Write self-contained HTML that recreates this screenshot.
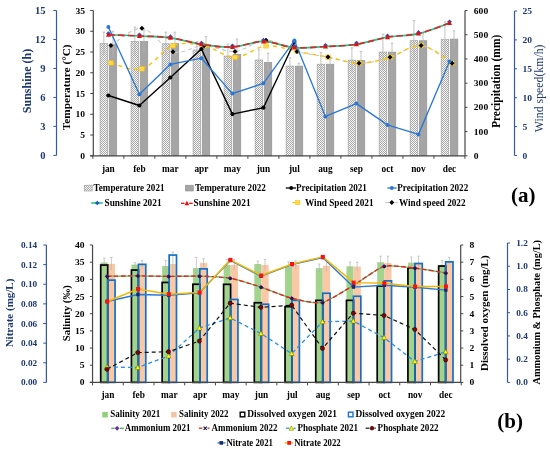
<!DOCTYPE html><html><head><meta charset="utf-8"><title>Chart</title><style>html,body{margin:0;padding:0;background:#fff;width:550px;height:451px;overflow:hidden}svg{display:block;filter:blur(0.3px)}text{font-family:"Liberation Serif",serif}</style></head><body>
<svg width="550" height="451" viewBox="0 0 550 451">
<defs><pattern id="chk" x="0" y="0" width="2" height="2" patternUnits="userSpaceOnUse"><rect width="2" height="2" fill="#f6f6f6"/><rect width="1" height="1" fill="#a9a9a9"/><rect x="1" y="1" width="1" height="1" fill="#a9a9a9"/></pattern></defs>
<rect width="550" height="451" fill="#fff"/>
<rect x="100.05" y="43.6" width="7.6" height="112.2" fill="url(#chk)" stroke="#9a9a9a" stroke-width="0.6"/>
<rect x="109.15" y="44.1" width="7.6" height="111.7" fill="#a5a5a5" stroke="#909090" stroke-width="0.6"/>
<rect x="131.06" y="41.4" width="7.6" height="114.4" fill="url(#chk)" stroke="#9a9a9a" stroke-width="0.6"/>
<rect x="140.16" y="41.4" width="7.6" height="114.4" fill="#a5a5a5" stroke="#909090" stroke-width="0.6"/>
<rect x="162.07" y="43.8" width="7.6" height="112" fill="url(#chk)" stroke="#9a9a9a" stroke-width="0.6"/>
<rect x="171.17" y="43.6" width="7.6" height="112.2" fill="#a5a5a5" stroke="#909090" stroke-width="0.6"/>
<rect x="193.08" y="50" width="7.6" height="105.8" fill="url(#chk)" stroke="#9a9a9a" stroke-width="0.6"/>
<rect x="202.18" y="47.6" width="7.6" height="108.2" fill="#a5a5a5" stroke="#909090" stroke-width="0.6"/>
<rect x="224.09" y="56.1" width="7.6" height="99.7" fill="url(#chk)" stroke="#9a9a9a" stroke-width="0.6"/>
<rect x="233.19" y="54.3" width="7.6" height="101.5" fill="#a5a5a5" stroke="#909090" stroke-width="0.6"/>
<rect x="255.1" y="60" width="7.6" height="95.8" fill="url(#chk)" stroke="#9a9a9a" stroke-width="0.6"/>
<rect x="264.2" y="62.3" width="7.6" height="93.5" fill="#a5a5a5" stroke="#909090" stroke-width="0.6"/>
<rect x="286.1" y="66.1" width="7.6" height="89.7" fill="url(#chk)" stroke="#9a9a9a" stroke-width="0.6"/>
<rect x="295.2" y="66.1" width="7.6" height="89.7" fill="#a5a5a5" stroke="#909090" stroke-width="0.6"/>
<rect x="317.11" y="64.2" width="7.6" height="91.6" fill="url(#chk)" stroke="#9a9a9a" stroke-width="0.6"/>
<rect x="326.21" y="64.2" width="7.6" height="91.6" fill="#a5a5a5" stroke="#909090" stroke-width="0.6"/>
<rect x="348.12" y="60.1" width="7.6" height="95.7" fill="url(#chk)" stroke="#9a9a9a" stroke-width="0.6"/>
<rect x="357.22" y="60.4" width="7.6" height="95.4" fill="#a5a5a5" stroke="#909090" stroke-width="0.6"/>
<rect x="379.13" y="52.1" width="7.6" height="103.7" fill="url(#chk)" stroke="#9a9a9a" stroke-width="0.6"/>
<rect x="388.23" y="52.1" width="7.6" height="103.7" fill="#a5a5a5" stroke="#909090" stroke-width="0.6"/>
<rect x="410.14" y="40.7" width="7.6" height="115.1" fill="url(#chk)" stroke="#9a9a9a" stroke-width="0.6"/>
<rect x="419.24" y="40.7" width="7.6" height="115.1" fill="#a5a5a5" stroke="#909090" stroke-width="0.6"/>
<rect x="441.15" y="39.6" width="7.6" height="116.2" fill="url(#chk)" stroke="#9a9a9a" stroke-width="0.6"/>
<rect x="450.25" y="39.1" width="7.6" height="116.7" fill="#a5a5a5" stroke="#909090" stroke-width="0.6"/>
<line x1="103.85" y1="32.1" x2="103.85" y2="55.1" stroke="#b4b4b4" stroke-width="0.8"/>
<line x1="102.55" y1="32.1" x2="105.15" y2="32.1" stroke="#b4b4b4" stroke-width="0.8"/>
<line x1="112.95" y1="31.3" x2="112.95" y2="56.9" stroke="#b4b4b4" stroke-width="0.8"/>
<line x1="111.65" y1="31.3" x2="114.25" y2="31.3" stroke="#b4b4b4" stroke-width="0.8"/>
<line x1="134.86" y1="27.1" x2="134.86" y2="55.7" stroke="#b4b4b4" stroke-width="0.8"/>
<line x1="133.56" y1="27.1" x2="136.16" y2="27.1" stroke="#b4b4b4" stroke-width="0.8"/>
<line x1="143.96" y1="30" x2="143.96" y2="52.8" stroke="#b4b4b4" stroke-width="0.8"/>
<line x1="142.66" y1="30" x2="145.26" y2="30" stroke="#b4b4b4" stroke-width="0.8"/>
<line x1="165.87" y1="32.2" x2="165.87" y2="55.4" stroke="#b4b4b4" stroke-width="0.8"/>
<line x1="164.57" y1="32.2" x2="167.17" y2="32.2" stroke="#b4b4b4" stroke-width="0.8"/>
<line x1="174.97" y1="32.2" x2="174.97" y2="55" stroke="#b4b4b4" stroke-width="0.8"/>
<line x1="173.67" y1="32.2" x2="176.27" y2="32.2" stroke="#b4b4b4" stroke-width="0.8"/>
<line x1="196.88" y1="41.6" x2="196.88" y2="58.4" stroke="#b4b4b4" stroke-width="0.8"/>
<line x1="195.58" y1="41.6" x2="198.18" y2="41.6" stroke="#b4b4b4" stroke-width="0.8"/>
<line x1="205.98" y1="36.4" x2="205.98" y2="58.8" stroke="#b4b4b4" stroke-width="0.8"/>
<line x1="204.68" y1="36.4" x2="207.28" y2="36.4" stroke="#b4b4b4" stroke-width="0.8"/>
<line x1="227.89" y1="44" x2="227.89" y2="68.2" stroke="#b4b4b4" stroke-width="0.8"/>
<line x1="226.59" y1="44" x2="229.19" y2="44" stroke="#b4b4b4" stroke-width="0.8"/>
<line x1="236.99" y1="39" x2="236.99" y2="69.6" stroke="#b4b4b4" stroke-width="0.8"/>
<line x1="235.69" y1="39" x2="238.29" y2="39" stroke="#b4b4b4" stroke-width="0.8"/>
<line x1="258.9" y1="49.8" x2="258.9" y2="70.2" stroke="#b4b4b4" stroke-width="0.8"/>
<line x1="257.6" y1="49.8" x2="260.2" y2="49.8" stroke="#b4b4b4" stroke-width="0.8"/>
<line x1="268" y1="53.2" x2="268" y2="71.4" stroke="#b4b4b4" stroke-width="0.8"/>
<line x1="266.7" y1="53.2" x2="269.3" y2="53.2" stroke="#b4b4b4" stroke-width="0.8"/>
<line x1="289.9" y1="57.7" x2="289.9" y2="74.5" stroke="#b4b4b4" stroke-width="0.8"/>
<line x1="288.6" y1="57.7" x2="291.2" y2="57.7" stroke="#b4b4b4" stroke-width="0.8"/>
<line x1="299" y1="63.2" x2="299" y2="69" stroke="#b4b4b4" stroke-width="0.8"/>
<line x1="297.7" y1="63.2" x2="300.3" y2="63.2" stroke="#b4b4b4" stroke-width="0.8"/>
<line x1="320.91" y1="52.6" x2="320.91" y2="75.8" stroke="#b4b4b4" stroke-width="0.8"/>
<line x1="319.61" y1="52.6" x2="322.21" y2="52.6" stroke="#b4b4b4" stroke-width="0.8"/>
<line x1="330.01" y1="58.3" x2="330.01" y2="70.1" stroke="#b4b4b4" stroke-width="0.8"/>
<line x1="328.71" y1="58.3" x2="331.31" y2="58.3" stroke="#b4b4b4" stroke-width="0.8"/>
<line x1="351.92" y1="47.8" x2="351.92" y2="72.4" stroke="#b4b4b4" stroke-width="0.8"/>
<line x1="350.62" y1="47.8" x2="353.22" y2="47.8" stroke="#b4b4b4" stroke-width="0.8"/>
<line x1="361.02" y1="51.4" x2="361.02" y2="69.4" stroke="#b4b4b4" stroke-width="0.8"/>
<line x1="359.72" y1="51.4" x2="362.32" y2="51.4" stroke="#b4b4b4" stroke-width="0.8"/>
<line x1="382.93" y1="34.1" x2="382.93" y2="70.1" stroke="#b4b4b4" stroke-width="0.8"/>
<line x1="381.63" y1="34.1" x2="384.23" y2="34.1" stroke="#b4b4b4" stroke-width="0.8"/>
<line x1="392.03" y1="43.1" x2="392.03" y2="61.1" stroke="#b4b4b4" stroke-width="0.8"/>
<line x1="390.73" y1="43.1" x2="393.33" y2="43.1" stroke="#b4b4b4" stroke-width="0.8"/>
<line x1="413.94" y1="20.6" x2="413.94" y2="60.8" stroke="#b4b4b4" stroke-width="0.8"/>
<line x1="412.64" y1="20.6" x2="415.24" y2="20.6" stroke="#b4b4b4" stroke-width="0.8"/>
<line x1="423.04" y1="33.6" x2="423.04" y2="47.8" stroke="#b4b4b4" stroke-width="0.8"/>
<line x1="421.74" y1="33.6" x2="424.34" y2="33.6" stroke="#b4b4b4" stroke-width="0.8"/>
<line x1="444.95" y1="21.8" x2="444.95" y2="57.4" stroke="#b4b4b4" stroke-width="0.8"/>
<line x1="443.65" y1="21.8" x2="446.25" y2="21.8" stroke="#b4b4b4" stroke-width="0.8"/>
<line x1="454.05" y1="30.8" x2="454.05" y2="47.4" stroke="#b4b4b4" stroke-width="0.8"/>
<line x1="452.75" y1="30.8" x2="455.35" y2="30.8" stroke="#b4b4b4" stroke-width="0.8"/>
<line x1="93.3" y1="10.5" x2="93.3" y2="155.8" stroke="#474747" stroke-width="1.2"/>
<line x1="90.2" y1="155.8" x2="464.95" y2="155.8" stroke="#474747" stroke-width="1.2"/>
<line x1="90.2" y1="155.8" x2="93.3" y2="155.8" stroke="#474747" stroke-width="1"/>
<text transform="translate(85 158.8) scale(1 0.88)" x="0" y="0" font-size="9.6" text-anchor="end" fill="#000" font-weight="bold">0</text>
<line x1="90.2" y1="135.04" x2="93.3" y2="135.04" stroke="#474747" stroke-width="1"/>
<text transform="translate(85 138.04) scale(1 0.88)" x="0" y="0" font-size="9.6" text-anchor="end" fill="#000" font-weight="bold">5</text>
<line x1="90.2" y1="114.29" x2="93.3" y2="114.29" stroke="#474747" stroke-width="1"/>
<text transform="translate(85 117.29) scale(1 0.88)" x="0" y="0" font-size="9.6" text-anchor="end" fill="#000" font-weight="bold">10</text>
<line x1="90.2" y1="93.53" x2="93.3" y2="93.53" stroke="#474747" stroke-width="1"/>
<text transform="translate(85 96.53) scale(1 0.88)" x="0" y="0" font-size="9.6" text-anchor="end" fill="#000" font-weight="bold">15</text>
<line x1="90.2" y1="72.77" x2="93.3" y2="72.77" stroke="#474747" stroke-width="1"/>
<text transform="translate(85 75.77) scale(1 0.88)" x="0" y="0" font-size="9.6" text-anchor="end" fill="#000" font-weight="bold">20</text>
<line x1="90.2" y1="52.01" x2="93.3" y2="52.01" stroke="#474747" stroke-width="1"/>
<text transform="translate(85 55.01) scale(1 0.88)" x="0" y="0" font-size="9.6" text-anchor="end" fill="#000" font-weight="bold">25</text>
<line x1="90.2" y1="31.26" x2="93.3" y2="31.26" stroke="#474747" stroke-width="1"/>
<text transform="translate(85 34.26) scale(1 0.88)" x="0" y="0" font-size="9.6" text-anchor="end" fill="#000" font-weight="bold">30</text>
<line x1="90.2" y1="10.5" x2="93.3" y2="10.5" stroke="#474747" stroke-width="1"/>
<text transform="translate(85 13.5) scale(1 0.88)" x="0" y="0" font-size="9.6" text-anchor="end" fill="#000" font-weight="bold">35</text>
<line x1="92.85" y1="155.8" x2="92.85" y2="158.8" stroke="#474747" stroke-width="1"/>
<line x1="123.86" y1="155.8" x2="123.86" y2="158.8" stroke="#474747" stroke-width="1"/>
<line x1="154.87" y1="155.8" x2="154.87" y2="158.8" stroke="#474747" stroke-width="1"/>
<line x1="185.88" y1="155.8" x2="185.88" y2="158.8" stroke="#474747" stroke-width="1"/>
<line x1="216.88" y1="155.8" x2="216.88" y2="158.8" stroke="#474747" stroke-width="1"/>
<line x1="247.89" y1="155.8" x2="247.89" y2="158.8" stroke="#474747" stroke-width="1"/>
<line x1="278.9" y1="155.8" x2="278.9" y2="158.8" stroke="#474747" stroke-width="1"/>
<line x1="309.91" y1="155.8" x2="309.91" y2="158.8" stroke="#474747" stroke-width="1"/>
<line x1="340.92" y1="155.8" x2="340.92" y2="158.8" stroke="#474747" stroke-width="1"/>
<line x1="371.93" y1="155.8" x2="371.93" y2="158.8" stroke="#474747" stroke-width="1"/>
<line x1="402.93" y1="155.8" x2="402.93" y2="158.8" stroke="#474747" stroke-width="1"/>
<line x1="433.94" y1="155.8" x2="433.94" y2="158.8" stroke="#474747" stroke-width="1"/>
<line x1="464.95" y1="155.8" x2="464.95" y2="158.8" stroke="#474747" stroke-width="1"/>
<text x="108.35" y="171.9" font-size="9.3" text-anchor="middle" fill="#000" font-weight="bold">jan</text>
<text x="139.36" y="171.9" font-size="9.3" text-anchor="middle" fill="#000" font-weight="bold">feb</text>
<text x="170.37" y="171.9" font-size="9.3" text-anchor="middle" fill="#000" font-weight="bold">mar</text>
<text x="201.38" y="171.9" font-size="9.3" text-anchor="middle" fill="#000" font-weight="bold">apr</text>
<text x="232.39" y="171.9" font-size="9.3" text-anchor="middle" fill="#000" font-weight="bold">may</text>
<text x="263.4" y="171.9" font-size="9.3" text-anchor="middle" fill="#000" font-weight="bold">jun</text>
<text x="294.4" y="171.9" font-size="9.3" text-anchor="middle" fill="#000" font-weight="bold">jul</text>
<text x="325.41" y="171.9" font-size="9.3" text-anchor="middle" fill="#000" font-weight="bold">aug</text>
<text x="356.42" y="171.9" font-size="9.3" text-anchor="middle" fill="#000" font-weight="bold">sep</text>
<text x="387.43" y="171.9" font-size="9.3" text-anchor="middle" fill="#000" font-weight="bold">oct</text>
<text x="418.44" y="171.9" font-size="9.3" text-anchor="middle" fill="#000" font-weight="bold">nov</text>
<text x="449.45" y="171.9" font-size="9.3" text-anchor="middle" fill="#000" font-weight="bold">dec</text>
<line x1="56.5" y1="10.5" x2="56.5" y2="155.4" stroke="#3459a0" stroke-width="1.2"/>
<line x1="53.3" y1="155.4" x2="56.5" y2="155.4" stroke="#3459a0" stroke-width="1"/>
<text transform="translate(45.6 158.9) scale(1 0.9)" x="0" y="0" font-size="10.6" text-anchor="end" fill="#1f3870" font-weight="bold">0</text>
<line x1="53.3" y1="126.42" x2="56.5" y2="126.42" stroke="#3459a0" stroke-width="1"/>
<text transform="translate(45.6 129.92) scale(1 0.9)" x="0" y="0" font-size="10.6" text-anchor="end" fill="#1f3870" font-weight="bold">3</text>
<line x1="53.3" y1="97.44" x2="56.5" y2="97.44" stroke="#3459a0" stroke-width="1"/>
<text transform="translate(45.6 100.94) scale(1 0.9)" x="0" y="0" font-size="10.6" text-anchor="end" fill="#1f3870" font-weight="bold">6</text>
<line x1="53.3" y1="68.46" x2="56.5" y2="68.46" stroke="#3459a0" stroke-width="1"/>
<text transform="translate(45.6 71.96) scale(1 0.9)" x="0" y="0" font-size="10.6" text-anchor="end" fill="#1f3870" font-weight="bold">9</text>
<line x1="53.3" y1="39.48" x2="56.5" y2="39.48" stroke="#3459a0" stroke-width="1"/>
<text transform="translate(45.6 42.98) scale(1 0.9)" x="0" y="0" font-size="10.6" text-anchor="end" fill="#1f3870" font-weight="bold">12</text>
<line x1="53.3" y1="10.5" x2="56.5" y2="10.5" stroke="#3459a0" stroke-width="1"/>
<text transform="translate(45.6 14) scale(1 0.9)" x="0" y="0" font-size="10.6" text-anchor="end" fill="#1f3870" font-weight="bold">15</text>
<line x1="465" y1="10.5" x2="465" y2="155.8" stroke="#474747" stroke-width="1.2"/>
<line x1="465" y1="155.8" x2="467.5" y2="155.8" stroke="#474747" stroke-width="1"/>
<text transform="translate(473.8 158.8) scale(1 0.88)" x="0" y="0" font-size="9.6" text-anchor="start" fill="#000" font-weight="bold">0</text>
<line x1="465" y1="131.58" x2="467.5" y2="131.58" stroke="#474747" stroke-width="1"/>
<text transform="translate(473.8 134.58) scale(1 0.88)" x="0" y="0" font-size="9.6" text-anchor="start" fill="#000" font-weight="bold">100</text>
<line x1="465" y1="107.37" x2="467.5" y2="107.37" stroke="#474747" stroke-width="1"/>
<text transform="translate(473.8 110.37) scale(1 0.88)" x="0" y="0" font-size="9.6" text-anchor="start" fill="#000" font-weight="bold">200</text>
<line x1="465" y1="83.15" x2="467.5" y2="83.15" stroke="#474747" stroke-width="1"/>
<text transform="translate(473.8 86.15) scale(1 0.88)" x="0" y="0" font-size="9.6" text-anchor="start" fill="#000" font-weight="bold">300</text>
<line x1="465" y1="58.93" x2="467.5" y2="58.93" stroke="#474747" stroke-width="1"/>
<text transform="translate(473.8 61.93) scale(1 0.88)" x="0" y="0" font-size="9.6" text-anchor="start" fill="#000" font-weight="bold">400</text>
<line x1="465" y1="34.72" x2="467.5" y2="34.72" stroke="#474747" stroke-width="1"/>
<text transform="translate(473.8 37.72) scale(1 0.88)" x="0" y="0" font-size="9.6" text-anchor="start" fill="#000" font-weight="bold">500</text>
<line x1="465" y1="10.5" x2="467.5" y2="10.5" stroke="#474747" stroke-width="1"/>
<text transform="translate(473.8 13.5) scale(1 0.88)" x="0" y="0" font-size="9.6" text-anchor="start" fill="#000" font-weight="bold">600</text>
<line x1="514.5" y1="11" x2="514.5" y2="155.5" stroke="#3459a0" stroke-width="1.2"/>
<line x1="514.5" y1="155.5" x2="517" y2="155.5" stroke="#3459a0" stroke-width="1"/>
<text transform="translate(522.5 158.6) scale(1 0.9)" x="0" y="0" font-size="9.6" text-anchor="start" fill="#1f3870" font-weight="bold">0</text>
<line x1="514.5" y1="126.6" x2="517" y2="126.6" stroke="#3459a0" stroke-width="1"/>
<text transform="translate(522.5 129.7) scale(1 0.9)" x="0" y="0" font-size="9.6" text-anchor="start" fill="#1f3870" font-weight="bold">5</text>
<line x1="514.5" y1="97.7" x2="517" y2="97.7" stroke="#3459a0" stroke-width="1"/>
<text transform="translate(522.5 100.8) scale(1 0.9)" x="0" y="0" font-size="9.6" text-anchor="start" fill="#1f3870" font-weight="bold">10</text>
<line x1="514.5" y1="68.8" x2="517" y2="68.8" stroke="#3459a0" stroke-width="1"/>
<text transform="translate(522.5 71.9) scale(1 0.9)" x="0" y="0" font-size="9.6" text-anchor="start" fill="#1f3870" font-weight="bold">15</text>
<line x1="514.5" y1="39.9" x2="517" y2="39.9" stroke="#3459a0" stroke-width="1"/>
<text transform="translate(522.5 43) scale(1 0.9)" x="0" y="0" font-size="9.6" text-anchor="start" fill="#1f3870" font-weight="bold">20</text>
<line x1="514.5" y1="11" x2="517" y2="11" stroke="#3459a0" stroke-width="1"/>
<text transform="translate(522.5 14.1) scale(1 0.9)" x="0" y="0" font-size="9.6" text-anchor="start" fill="#1f3870" font-weight="bold">25</text>
<text transform="translate(27.2 81) rotate(-90)" x="0" y="0" font-size="12" text-anchor="middle" dominant-baseline="central" fill="#1f3870" font-weight="bold">Sunshine (h)</text>
<text transform="translate(65.6 87.3) rotate(-90)" x="0" y="0" font-size="11.3" text-anchor="middle" dominant-baseline="central" fill="#000" font-weight="bold">Temperature (°C)</text>
<text transform="translate(495.8 81.4) rotate(-90)" x="0" y="0" font-size="11.5" text-anchor="middle" dominant-baseline="central" fill="#000" font-weight="bold">Precipitation (mm)</text>
<text transform="translate(538.9 88.3) rotate(-90)" x="0" y="0" font-size="11.8" text-anchor="middle" dominant-baseline="central" fill="#1f3870" font-weight="normal">Wind speed(km/h)</text>
<path d="M110.95 45.6 C116.12 42.72 131.63 27.27 141.96 28.3 C152.3 29.33 162.63 48.9 172.97 51.8 C183.31 54.7 193.64 45.77 203.98 45.7 C214.32 45.63 224.65 52.32 234.99 51.4 C245.32 50.48 255.66 40.2 266 40.2 C276.33 40.2 286.67 48.58 297 51.4 C307.34 54.22 317.68 55.13 328.01 57.1 C338.35 59.07 348.68 63.17 359.02 63.2 C369.36 63.23 379.69 60.25 390.03 57.3 C400.37 54.35 410.7 44.52 421.04 45.5 C431.37 46.48 446.88 60.25 452.05 63.2" fill="none" stroke="#c8c8c8" stroke-width="1.1" stroke-dasharray="4 3"/>
<path d="M110.95 62.9 C116.12 63.9 131.63 71.77 141.96 68.9 C152.3 66.03 162.63 49.57 172.97 45.7 C183.31 41.83 193.64 43.77 203.98 45.7 C214.32 47.63 224.65 57.27 234.99 57.3 C245.32 57.33 255.66 46.88 266 45.9 C276.33 44.92 286.67 49.53 297 51.4 C307.34 53.27 317.68 55.13 328.01 57.1 C338.35 59.07 348.68 63.17 359.02 63.2 C369.36 63.23 379.69 60.25 390.03 57.3 C400.37 54.35 410.7 44.52 421.04 45.5 C431.37 46.48 446.88 60.25 452.05 63.2" fill="none" stroke="#ffc000" stroke-width="1.4" stroke-dasharray="4 4"/>
<rect x="108.75" y="60.7" width="4.4" height="4.4" fill="#ffd84a" stroke="#f5c400" stroke-width="0.5"/>
<rect x="139.76" y="66.7" width="4.4" height="4.4" fill="#ffd84a" stroke="#f5c400" stroke-width="0.5"/>
<rect x="170.77" y="43.5" width="4.4" height="4.4" fill="#ffd84a" stroke="#f5c400" stroke-width="0.5"/>
<rect x="201.78" y="43.5" width="4.4" height="4.4" fill="#ffd84a" stroke="#f5c400" stroke-width="0.5"/>
<rect x="232.79" y="55.1" width="4.4" height="4.4" fill="#ffd84a" stroke="#f5c400" stroke-width="0.5"/>
<rect x="263.8" y="43.7" width="4.4" height="4.4" fill="#ffd84a" stroke="#f5c400" stroke-width="0.5"/>
<rect x="294.8" y="49.2" width="4.4" height="4.4" fill="#ffd84a" stroke="#f5c400" stroke-width="0.5"/>
<rect x="325.81" y="54.9" width="4.4" height="4.4" fill="#ffd84a" stroke="#f5c400" stroke-width="0.5"/>
<rect x="356.82" y="61" width="4.4" height="4.4" fill="#ffd84a" stroke="#f5c400" stroke-width="0.5"/>
<rect x="387.83" y="55.1" width="4.4" height="4.4" fill="#ffd84a" stroke="#f5c400" stroke-width="0.5"/>
<rect x="418.84" y="43.3" width="4.4" height="4.4" fill="#ffd84a" stroke="#f5c400" stroke-width="0.5"/>
<rect x="449.85" y="61" width="4.4" height="4.4" fill="#ffd84a" stroke="#f5c400" stroke-width="0.5"/>
<path d="M110.95 43.1 L113.45 45.6 L110.95 48.1 L108.45 45.6 Z" fill="#000"/>
<path d="M141.96 25.8 L144.46 28.3 L141.96 30.8 L139.46 28.3 Z" fill="#000"/>
<path d="M172.97 49.3 L175.47 51.8 L172.97 54.3 L170.47 51.8 Z" fill="#000"/>
<path d="M203.98 43.2 L206.48 45.7 L203.98 48.2 L201.48 45.7 Z" fill="#000"/>
<path d="M234.99 48.9 L237.49 51.4 L234.99 53.9 L232.49 51.4 Z" fill="#000"/>
<path d="M266 37.7 L268.5 40.2 L266 42.7 L263.5 40.2 Z" fill="#000"/>
<path d="M297 48.9 L299.5 51.4 L297 53.9 L294.5 51.4 Z" fill="#000"/>
<path d="M328.01 54.6 L330.51 57.1 L328.01 59.6 L325.51 57.1 Z" fill="#000"/>
<path d="M359.02 60.7 L361.52 63.2 L359.02 65.7 L356.52 63.2 Z" fill="#000"/>
<path d="M390.03 54.8 L392.53 57.3 L390.03 59.8 L387.53 57.3 Z" fill="#000"/>
<path d="M421.04 43 L423.54 45.5 L421.04 48 L418.54 45.5 Z" fill="#000"/>
<path d="M452.05 60.7 L454.55 63.2 L452.05 65.7 L449.55 63.2 Z" fill="#000"/>
<path d="M108.35 95.5 L139.36 105.5 L170.37 77.5 L201.38 49 L232.39 114.1 L263.4 107.7 L294.4 42" fill="none" stroke="#000" stroke-width="1.4" stroke-linejoin="round"/>
<circle cx="108.35" cy="95.5" r="2.1" fill="#000"/>
<circle cx="139.36" cy="105.5" r="2.1" fill="#000"/>
<circle cx="170.37" cy="77.5" r="2.1" fill="#000"/>
<circle cx="201.38" cy="49" r="2.1" fill="#000"/>
<circle cx="232.39" cy="114.1" r="2.1" fill="#000"/>
<circle cx="263.4" cy="107.7" r="2.1" fill="#000"/>
<circle cx="294.4" cy="42" r="2.1" fill="#000"/>
<path d="M108.35 27 L139.36 94.3 L170.37 64.4 L201.38 58.2 L232.39 93.6 L263.4 83.3 L294.4 40.6 L325.41 116.4 L356.42 103.6 L387.43 124.9 L418.44 134.4 L449.45 61.5" fill="none" stroke="#2a78d6" stroke-width="1.35" stroke-linejoin="round"/>
<circle cx="108.35" cy="27" r="2" fill="#2a78d6"/>
<circle cx="139.36" cy="94.3" r="2" fill="#2a78d6"/>
<circle cx="170.37" cy="64.4" r="2" fill="#2a78d6"/>
<circle cx="201.38" cy="58.2" r="2" fill="#2a78d6"/>
<circle cx="232.39" cy="93.6" r="2" fill="#2a78d6"/>
<circle cx="263.4" cy="83.3" r="2" fill="#2a78d6"/>
<circle cx="294.4" cy="40.6" r="2" fill="#2a78d6"/>
<circle cx="325.41" cy="116.4" r="2" fill="#2a78d6"/>
<circle cx="356.42" cy="103.6" r="2" fill="#2a78d6"/>
<circle cx="387.43" cy="124.9" r="2" fill="#2a78d6"/>
<circle cx="418.44" cy="134.4" r="2" fill="#2a78d6"/>
<circle cx="449.45" cy="61.5" r="2" fill="#2a78d6"/>
<path d="M108.45 34.8 C113.62 35 129.13 35.5 139.46 36 C149.8 36.5 160.13 36.42 170.47 37.8 C180.81 39.18 191.14 42.77 201.48 44.3 C211.82 45.83 222.15 47.48 232.49 47 C242.82 46.52 253.16 41.3 263.5 41.4 C273.83 41.5 284.17 46.75 294.5 47.6 C304.84 48.45 315.18 47.05 325.51 46.5 C335.85 45.95 346.18 45.85 356.52 44.3 C366.86 42.75 377.19 38.98 387.53 37.2 C397.87 35.42 408.2 35.97 418.54 33.6 C428.87 31.23 444.38 24.77 449.55 23" fill="none" stroke="#22c488" stroke-width="1.7"/>
<path d="M108.45 31.2 L110.85 33.6 L108.45 36 L106.05 33.6 Z" fill="#2456c8"/>
<path d="M139.46 32.4 L141.86 34.8 L139.46 37.2 L137.06 34.8 Z" fill="#2456c8"/>
<path d="M170.47 34.2 L172.87 36.6 L170.47 39 L168.07 36.6 Z" fill="#2456c8"/>
<path d="M201.48 40.7 L203.88 43.1 L201.48 45.5 L199.08 43.1 Z" fill="#2456c8"/>
<path d="M232.49 43.4 L234.89 45.8 L232.49 48.2 L230.09 45.8 Z" fill="#2456c8"/>
<path d="M263.5 37.8 L265.9 40.2 L263.5 42.6 L261.1 40.2 Z" fill="#2456c8"/>
<path d="M294.5 44 L296.9 46.4 L294.5 48.8 L292.1 46.4 Z" fill="#2456c8"/>
<path d="M325.51 42.9 L327.91 45.3 L325.51 47.7 L323.11 45.3 Z" fill="#2456c8"/>
<path d="M356.52 40.7 L358.92 43.1 L356.52 45.5 L354.12 43.1 Z" fill="#2456c8"/>
<path d="M387.53 33.6 L389.93 36 L387.53 38.4 L385.13 36 Z" fill="#2456c8"/>
<path d="M418.54 30 L420.94 32.4 L418.54 34.8 L416.14 32.4 Z" fill="#2456c8"/>
<path d="M449.55 19.4 L451.95 21.8 L449.55 24.2 L447.15 21.8 Z" fill="#2456c8"/>
<path d="M108.45 34.8 C113.62 35 129.13 35.5 139.46 36 C149.8 36.5 160.13 36.42 170.47 37.8 C180.81 39.18 191.14 42.77 201.48 44.3 C211.82 45.83 222.15 47.48 232.49 47 C242.82 46.52 253.16 41.3 263.5 41.4 C273.83 41.5 284.17 46.75 294.5 47.6 C304.84 48.45 315.18 47.05 325.51 46.5 C335.85 45.95 346.18 45.85 356.52 44.3 C366.86 42.75 377.19 38.98 387.53 37.2 C397.87 35.42 408.2 35.97 418.54 33.6 C428.87 31.23 444.38 24.77 449.55 23" fill="none" stroke="#d42a2a" stroke-width="1.7" stroke-dasharray="6.5 3.2"/>
<path d="M108.45 32.05 L110.95 36.8 L105.95 36.8 Z" fill="#e01010"/>
<path d="M139.46 33.25 L141.96 38 L136.96 38 Z" fill="#e01010"/>
<path d="M170.47 35.05 L172.97 39.8 L167.97 39.8 Z" fill="#e01010"/>
<path d="M201.48 41.55 L203.98 46.3 L198.98 46.3 Z" fill="#e01010"/>
<path d="M232.49 44.25 L234.99 49 L229.99 49 Z" fill="#e01010"/>
<path d="M263.5 38.65 L266 43.4 L261 43.4 Z" fill="#e01010"/>
<path d="M294.5 44.85 L297 49.6 L292 49.6 Z" fill="#e01010"/>
<path d="M325.51 43.75 L328.01 48.5 L323.01 48.5 Z" fill="#e01010"/>
<path d="M356.52 41.55 L359.02 46.3 L354.02 46.3 Z" fill="#e01010"/>
<path d="M387.53 34.45 L390.03 39.2 L385.03 39.2 Z" fill="#e01010"/>
<path d="M418.54 30.85 L421.04 35.6 L416.04 35.6 Z" fill="#e01010"/>
<path d="M449.55 20.25 L452.05 25 L447.05 25 Z" fill="#e01010"/>
<rect x="84.2" y="185.2" width="8" height="5.8" fill="url(#chk)" stroke="#9a9a9a" stroke-width="0.6"/>
<text x="93.6" y="191.2" font-size="9.6" fill="#000" font-weight="bold" textLength="70.9" lengthAdjust="spacingAndGlyphs">Temperature 2021</text>
<rect x="185.3" y="185.2" width="8" height="5.8" fill="#a5a5a5" stroke="#909090" stroke-width="0.6"/>
<text x="194.9" y="191.2" font-size="9.6" fill="#000" font-weight="bold" textLength="70.9" lengthAdjust="spacingAndGlyphs">Temperature 2022</text>
<line x1="285.8" y1="188" x2="296" y2="188" stroke="#000" stroke-width="1.3"/>
<circle cx="291.2" cy="188" r="1.9" fill="#000"/>
<text x="296" y="191.2" font-size="9.6" fill="#000" font-weight="bold" textLength="70.91" lengthAdjust="spacingAndGlyphs">Precipitation 2021</text>
<line x1="387.3" y1="188" x2="396.7" y2="188" stroke="#2a78d6" stroke-width="1.3"/>
<circle cx="391.8" cy="188" r="1.9" fill="#2a78d6"/>
<text x="397.3" y="191.2" font-size="9.6" fill="#000" font-weight="bold" textLength="70.91" lengthAdjust="spacingAndGlyphs">Precipitation 2022</text>
<line x1="91.3" y1="203" x2="102.7" y2="203" stroke="#22c488" stroke-width="1.6"/>
<path d="M97.3 200.7 L99.6 203 L97.3 205.3 L95 203 Z" fill="#2456c8"/>
<text x="104.5" y="206.4" font-size="9.6" fill="#000" font-weight="bold" textLength="57.02" lengthAdjust="spacingAndGlyphs">Sunshine 2021</text>
<line x1="181" y1="203.3" x2="184.5" y2="203.3" stroke="#e01010" stroke-width="1.3"/>
<line x1="189.2" y1="203.3" x2="192.7" y2="203.3" stroke="#e01010" stroke-width="1.3"/>
<path d="M186.9 200.66 L189.3 205.22 L184.5 205.22 Z" fill="#e01010"/>
<text x="193.6" y="206.4" font-size="9.6" fill="#000" font-weight="bold" textLength="56.92" lengthAdjust="spacingAndGlyphs">Sunshine 2021</text>
<line x1="292.4" y1="202.6" x2="295.5" y2="202.6" stroke="#ffc000" stroke-width="1.3"/>
<rect x="295.7" y="200.5" width="4.2" height="4.2" fill="#ffd84a" stroke="#f5c400" stroke-width="0.5"/>
<text x="305" y="206.4" font-size="9.6" fill="#000" font-weight="bold" textLength="68.58" lengthAdjust="spacingAndGlyphs">Wind Speed 2021</text>
<line x1="385.5" y1="202.6" x2="389" y2="202.6" stroke="#c8c8c8" stroke-width="1.1"/>
<line x1="394.5" y1="202.6" x2="397.8" y2="202.6" stroke="#c8c8c8" stroke-width="1.1"/>
<path d="M391.8 200.1 L394.3 202.6 L391.8 205.1 L389.3 202.6 Z" fill="#000"/>
<text x="399" y="206.4" font-size="9.6" fill="#000" font-weight="bold" textLength="66.51" lengthAdjust="spacingAndGlyphs">Wind speed 2022</text>
<text x="523.25" y="202.3" font-size="21" text-anchor="middle" fill="#000" font-weight="bold">(a)</text>
<rect x="100.71" y="262.5" width="7" height="119.9" fill="#a2d48e"/>
<rect x="107.71" y="263.9" width="7.35" height="118.5" fill="#f9c8a6"/>
<rect x="131.43" y="264.6" width="7" height="117.8" fill="#a2d48e"/>
<rect x="138.43" y="264.4" width="7.35" height="118" fill="#f9c8a6"/>
<rect x="162.15" y="266" width="7" height="116.4" fill="#a2d48e"/>
<rect x="169.15" y="264" width="7.35" height="118.4" fill="#f9c8a6"/>
<rect x="192.87" y="268" width="7" height="114.4" fill="#a2d48e"/>
<rect x="199.87" y="263" width="7.35" height="119.4" fill="#f9c8a6"/>
<rect x="223.59" y="264.9" width="7" height="117.5" fill="#a2d48e"/>
<rect x="230.59" y="264.9" width="7.35" height="117.5" fill="#f9c8a6"/>
<rect x="254.31" y="264" width="7" height="118.4" fill="#a2d48e"/>
<rect x="261.31" y="264.9" width="7.35" height="117.5" fill="#f9c8a6"/>
<rect x="285.04" y="266.6" width="7" height="115.8" fill="#a2d48e"/>
<rect x="292.04" y="264.9" width="7.35" height="117.5" fill="#f9c8a6"/>
<rect x="315.76" y="268.1" width="7" height="114.3" fill="#a2d48e"/>
<rect x="322.76" y="265.8" width="7.35" height="116.6" fill="#f9c8a6"/>
<rect x="346.48" y="266.3" width="7" height="116.1" fill="#a2d48e"/>
<rect x="353.48" y="266.6" width="7.35" height="115.8" fill="#f9c8a6"/>
<rect x="377.2" y="262.2" width="7" height="120.2" fill="#a2d48e"/>
<rect x="384.2" y="263.1" width="7.35" height="119.3" fill="#f9c8a6"/>
<rect x="407.92" y="262.7" width="7" height="119.7" fill="#a2d48e"/>
<rect x="414.92" y="262.7" width="7.35" height="119.7" fill="#f9c8a6"/>
<rect x="438.64" y="264.9" width="7" height="117.5" fill="#a2d48e"/>
<rect x="445.64" y="261" width="7.35" height="121.4" fill="#f9c8a6"/>
<line x1="104.21" y1="258.1" x2="104.21" y2="266.9" stroke="#b4b4b4" stroke-width="0.7"/>
<line x1="103.01" y1="258.1" x2="105.41" y2="258.1" stroke="#b4b4b4" stroke-width="0.7"/>
<line x1="111.39" y1="257.5" x2="111.39" y2="270.3" stroke="#b4b4b4" stroke-width="0.7"/>
<line x1="110.19" y1="257.5" x2="112.59" y2="257.5" stroke="#b4b4b4" stroke-width="0.7"/>
<line x1="134.93" y1="262.7" x2="134.93" y2="266.5" stroke="#b4b4b4" stroke-width="0.7"/>
<line x1="133.73" y1="262.7" x2="136.13" y2="262.7" stroke="#b4b4b4" stroke-width="0.7"/>
<line x1="142.11" y1="260.5" x2="142.11" y2="268.3" stroke="#b4b4b4" stroke-width="0.7"/>
<line x1="140.91" y1="260.5" x2="143.31" y2="260.5" stroke="#b4b4b4" stroke-width="0.7"/>
<line x1="165.65" y1="260.3" x2="165.65" y2="271.7" stroke="#b4b4b4" stroke-width="0.7"/>
<line x1="164.45" y1="260.3" x2="166.85" y2="260.3" stroke="#b4b4b4" stroke-width="0.7"/>
<line x1="172.83" y1="252.1" x2="172.83" y2="275.9" stroke="#b4b4b4" stroke-width="0.7"/>
<line x1="171.63" y1="252.1" x2="174.03" y2="252.1" stroke="#b4b4b4" stroke-width="0.7"/>
<line x1="196.37" y1="257.5" x2="196.37" y2="278.5" stroke="#b4b4b4" stroke-width="0.7"/>
<line x1="195.17" y1="257.5" x2="197.57" y2="257.5" stroke="#b4b4b4" stroke-width="0.7"/>
<line x1="203.55" y1="258.6" x2="203.55" y2="267.4" stroke="#b4b4b4" stroke-width="0.7"/>
<line x1="202.35" y1="258.6" x2="204.75" y2="258.6" stroke="#b4b4b4" stroke-width="0.7"/>
<line x1="227.09" y1="259.5" x2="227.09" y2="270.3" stroke="#b4b4b4" stroke-width="0.7"/>
<line x1="225.89" y1="259.5" x2="228.29" y2="259.5" stroke="#b4b4b4" stroke-width="0.7"/>
<line x1="234.27" y1="259.5" x2="234.27" y2="270.3" stroke="#b4b4b4" stroke-width="0.7"/>
<line x1="233.07" y1="259.5" x2="235.47" y2="259.5" stroke="#b4b4b4" stroke-width="0.7"/>
<line x1="257.81" y1="261.1" x2="257.81" y2="266.9" stroke="#b4b4b4" stroke-width="0.7"/>
<line x1="256.61" y1="261.1" x2="259.01" y2="261.1" stroke="#b4b4b4" stroke-width="0.7"/>
<line x1="264.99" y1="259.5" x2="264.99" y2="270.3" stroke="#b4b4b4" stroke-width="0.7"/>
<line x1="263.79" y1="259.5" x2="266.19" y2="259.5" stroke="#b4b4b4" stroke-width="0.7"/>
<line x1="288.54" y1="261.9" x2="288.54" y2="271.3" stroke="#b4b4b4" stroke-width="0.7"/>
<line x1="287.34" y1="261.9" x2="289.74" y2="261.9" stroke="#b4b4b4" stroke-width="0.7"/>
<line x1="295.71" y1="260.8" x2="295.71" y2="269" stroke="#b4b4b4" stroke-width="0.7"/>
<line x1="294.51" y1="260.8" x2="296.91" y2="260.8" stroke="#b4b4b4" stroke-width="0.7"/>
<line x1="319.26" y1="264" x2="319.26" y2="272.2" stroke="#b4b4b4" stroke-width="0.7"/>
<line x1="318.06" y1="264" x2="320.46" y2="264" stroke="#b4b4b4" stroke-width="0.7"/>
<line x1="326.43" y1="260.3" x2="326.43" y2="271.3" stroke="#b4b4b4" stroke-width="0.7"/>
<line x1="325.23" y1="260.3" x2="327.63" y2="260.3" stroke="#b4b4b4" stroke-width="0.7"/>
<line x1="349.98" y1="262" x2="349.98" y2="270.6" stroke="#b4b4b4" stroke-width="0.7"/>
<line x1="348.78" y1="262" x2="351.18" y2="262" stroke="#b4b4b4" stroke-width="0.7"/>
<line x1="357.15" y1="262.4" x2="357.15" y2="270.8" stroke="#b4b4b4" stroke-width="0.7"/>
<line x1="355.95" y1="262.4" x2="358.35" y2="262.4" stroke="#b4b4b4" stroke-width="0.7"/>
<line x1="380.7" y1="256.2" x2="380.7" y2="268.2" stroke="#b4b4b4" stroke-width="0.7"/>
<line x1="379.5" y1="256.2" x2="381.9" y2="256.2" stroke="#b4b4b4" stroke-width="0.7"/>
<line x1="387.87" y1="256.2" x2="387.87" y2="270" stroke="#b4b4b4" stroke-width="0.7"/>
<line x1="386.67" y1="256.2" x2="389.07" y2="256.2" stroke="#b4b4b4" stroke-width="0.7"/>
<line x1="411.42" y1="257" x2="411.42" y2="268.4" stroke="#b4b4b4" stroke-width="0.7"/>
<line x1="410.22" y1="257" x2="412.62" y2="257" stroke="#b4b4b4" stroke-width="0.7"/>
<line x1="418.59" y1="256.2" x2="418.59" y2="269.2" stroke="#b4b4b4" stroke-width="0.7"/>
<line x1="417.39" y1="256.2" x2="419.79" y2="256.2" stroke="#b4b4b4" stroke-width="0.7"/>
<line x1="442.14" y1="260.3" x2="442.14" y2="269.5" stroke="#b4b4b4" stroke-width="0.7"/>
<line x1="440.94" y1="260.3" x2="443.34" y2="260.3" stroke="#b4b4b4" stroke-width="0.7"/>
<line x1="449.31" y1="257.5" x2="449.31" y2="264.5" stroke="#b4b4b4" stroke-width="0.7"/>
<line x1="448.11" y1="257.5" x2="450.51" y2="257.5" stroke="#b4b4b4" stroke-width="0.7"/>
<rect x="100.71" y="265.05" width="7" height="117.35" fill="none" stroke="#000" stroke-width="1.7"/>
<rect x="131.43" y="270.05" width="7" height="112.35" fill="none" stroke="#000" stroke-width="1.7"/>
<rect x="162.15" y="282.45" width="7" height="99.95" fill="none" stroke="#000" stroke-width="1.7"/>
<rect x="192.87" y="284.25" width="7" height="98.15" fill="none" stroke="#000" stroke-width="1.7"/>
<rect x="223.59" y="284.35" width="7" height="98.05" fill="none" stroke="#000" stroke-width="1.7"/>
<rect x="254.31" y="302.75" width="7" height="79.65" fill="none" stroke="#000" stroke-width="1.7"/>
<rect x="285.04" y="306.65" width="7" height="75.75" fill="none" stroke="#000" stroke-width="1.7"/>
<rect x="315.76" y="300.35" width="7" height="82.05" fill="none" stroke="#000" stroke-width="1.7"/>
<rect x="346.48" y="300.35" width="7" height="82.05" fill="none" stroke="#000" stroke-width="1.7"/>
<rect x="377.2" y="286.15" width="7" height="96.25" fill="none" stroke="#000" stroke-width="1.7"/>
<rect x="407.92" y="267.85" width="7" height="114.55" fill="none" stroke="#000" stroke-width="1.7"/>
<rect x="438.64" y="266.05" width="7" height="116.35" fill="none" stroke="#000" stroke-width="1.7"/>
<rect x="107.71" y="280.15" width="7.35" height="102.25" fill="none" stroke="#1570c8" stroke-width="1.7"/>
<rect x="138.43" y="264.35" width="7.35" height="118.05" fill="none" stroke="#1570c8" stroke-width="1.7"/>
<rect x="169.15" y="255.05" width="7.35" height="127.35" fill="none" stroke="#1570c8" stroke-width="1.7"/>
<rect x="199.87" y="268.85" width="7.35" height="113.55" fill="none" stroke="#1570c8" stroke-width="1.7"/>
<rect x="230.59" y="299.45" width="7.35" height="82.95" fill="none" stroke="#1570c8" stroke-width="1.7"/>
<rect x="261.31" y="304.25" width="7.35" height="78.15" fill="none" stroke="#1570c8" stroke-width="1.7"/>
<rect x="292.04" y="300.35" width="7.35" height="82.05" fill="none" stroke="#1570c8" stroke-width="1.7"/>
<rect x="322.76" y="293.25" width="7.35" height="89.15" fill="none" stroke="#1570c8" stroke-width="1.7"/>
<rect x="353.48" y="296.25" width="7.35" height="86.15" fill="none" stroke="#1570c8" stroke-width="1.7"/>
<rect x="384.2" y="280.85" width="7.35" height="101.55" fill="none" stroke="#1570c8" stroke-width="1.7"/>
<rect x="414.92" y="263.55" width="7.35" height="118.85" fill="none" stroke="#1570c8" stroke-width="1.7"/>
<rect x="445.64" y="261.85" width="7.35" height="120.55" fill="none" stroke="#1570c8" stroke-width="1.7"/>
<line x1="92.55" y1="245" x2="92.55" y2="382.4" stroke="#474747" stroke-width="1.2"/>
<line x1="89.8" y1="382.4" x2="461.2" y2="382.4" stroke="#474747" stroke-width="1.2"/>
<line x1="89.8" y1="382.4" x2="92.55" y2="382.4" stroke="#474747" stroke-width="1"/>
<text transform="translate(84.5 385.4) scale(1 0.88)" x="0" y="0" font-size="9.6" text-anchor="end" fill="#000" font-weight="bold">0</text>
<line x1="89.8" y1="365.22" x2="92.55" y2="365.22" stroke="#474747" stroke-width="1"/>
<text transform="translate(84.5 368.22) scale(1 0.88)" x="0" y="0" font-size="9.6" text-anchor="end" fill="#000" font-weight="bold">5</text>
<line x1="89.8" y1="348.05" x2="92.55" y2="348.05" stroke="#474747" stroke-width="1"/>
<text transform="translate(84.5 351.05) scale(1 0.88)" x="0" y="0" font-size="9.6" text-anchor="end" fill="#000" font-weight="bold">10</text>
<line x1="89.8" y1="330.88" x2="92.55" y2="330.88" stroke="#474747" stroke-width="1"/>
<text transform="translate(84.5 333.88) scale(1 0.88)" x="0" y="0" font-size="9.6" text-anchor="end" fill="#000" font-weight="bold">15</text>
<line x1="89.8" y1="313.7" x2="92.55" y2="313.7" stroke="#474747" stroke-width="1"/>
<text transform="translate(84.5 316.7) scale(1 0.88)" x="0" y="0" font-size="9.6" text-anchor="end" fill="#000" font-weight="bold">20</text>
<line x1="89.8" y1="296.52" x2="92.55" y2="296.52" stroke="#474747" stroke-width="1"/>
<text transform="translate(84.5 299.52) scale(1 0.88)" x="0" y="0" font-size="9.6" text-anchor="end" fill="#000" font-weight="bold">25</text>
<line x1="89.8" y1="279.35" x2="92.55" y2="279.35" stroke="#474747" stroke-width="1"/>
<text transform="translate(84.5 282.35) scale(1 0.88)" x="0" y="0" font-size="9.6" text-anchor="end" fill="#000" font-weight="bold">30</text>
<line x1="89.8" y1="262.18" x2="92.55" y2="262.18" stroke="#474747" stroke-width="1"/>
<text transform="translate(84.5 265.18) scale(1 0.88)" x="0" y="0" font-size="9.6" text-anchor="end" fill="#000" font-weight="bold">35</text>
<line x1="89.8" y1="245" x2="92.55" y2="245" stroke="#474747" stroke-width="1"/>
<text transform="translate(84.5 248) scale(1 0.88)" x="0" y="0" font-size="9.6" text-anchor="end" fill="#000" font-weight="bold">40</text>
<line x1="92.55" y1="382.4" x2="92.55" y2="385.4" stroke="#474747" stroke-width="1"/>
<line x1="123.27" y1="382.4" x2="123.27" y2="385.4" stroke="#474747" stroke-width="1"/>
<line x1="153.99" y1="382.4" x2="153.99" y2="385.4" stroke="#474747" stroke-width="1"/>
<line x1="184.71" y1="382.4" x2="184.71" y2="385.4" stroke="#474747" stroke-width="1"/>
<line x1="215.43" y1="382.4" x2="215.43" y2="385.4" stroke="#474747" stroke-width="1"/>
<line x1="246.15" y1="382.4" x2="246.15" y2="385.4" stroke="#474747" stroke-width="1"/>
<line x1="276.88" y1="382.4" x2="276.88" y2="385.4" stroke="#474747" stroke-width="1"/>
<line x1="307.6" y1="382.4" x2="307.6" y2="385.4" stroke="#474747" stroke-width="1"/>
<line x1="338.32" y1="382.4" x2="338.32" y2="385.4" stroke="#474747" stroke-width="1"/>
<line x1="369.04" y1="382.4" x2="369.04" y2="385.4" stroke="#474747" stroke-width="1"/>
<line x1="399.76" y1="382.4" x2="399.76" y2="385.4" stroke="#474747" stroke-width="1"/>
<line x1="430.48" y1="382.4" x2="430.48" y2="385.4" stroke="#474747" stroke-width="1"/>
<line x1="461.2" y1="382.4" x2="461.2" y2="385.4" stroke="#474747" stroke-width="1"/>
<text x="107.91" y="397.7" font-size="9.3" text-anchor="middle" fill="#000" font-weight="bold">jan</text>
<text x="138.63" y="397.7" font-size="9.3" text-anchor="middle" fill="#000" font-weight="bold">feb</text>
<text x="169.35" y="397.7" font-size="9.3" text-anchor="middle" fill="#000" font-weight="bold">mar</text>
<text x="200.07" y="397.7" font-size="9.3" text-anchor="middle" fill="#000" font-weight="bold">apr</text>
<text x="230.79" y="397.7" font-size="9.3" text-anchor="middle" fill="#000" font-weight="bold">may</text>
<text x="261.51" y="397.7" font-size="9.3" text-anchor="middle" fill="#000" font-weight="bold">jun</text>
<text x="292.24" y="397.7" font-size="9.3" text-anchor="middle" fill="#000" font-weight="bold">jul</text>
<text x="322.96" y="397.7" font-size="9.3" text-anchor="middle" fill="#000" font-weight="bold">aug</text>
<text x="353.68" y="397.7" font-size="9.3" text-anchor="middle" fill="#000" font-weight="bold">sep</text>
<text x="384.4" y="397.7" font-size="9.3" text-anchor="middle" fill="#000" font-weight="bold">oct</text>
<text x="415.12" y="397.7" font-size="9.3" text-anchor="middle" fill="#000" font-weight="bold">nov</text>
<text x="445.84" y="397.7" font-size="9.3" text-anchor="middle" fill="#000" font-weight="bold">dec</text>
<line x1="46.4" y1="245" x2="46.4" y2="382.4" stroke="#3459a0" stroke-width="1.2"/>
<line x1="43.2" y1="382.4" x2="46.4" y2="382.4" stroke="#3459a0" stroke-width="1"/>
<text transform="translate(37.2 385.4) scale(1 0.9)" x="0" y="0" font-size="9.3" text-anchor="end" fill="#1f3870" font-weight="bold">0.00</text>
<line x1="43.2" y1="362.77" x2="46.4" y2="362.77" stroke="#3459a0" stroke-width="1"/>
<text transform="translate(37.2 365.77) scale(1 0.9)" x="0" y="0" font-size="9.3" text-anchor="end" fill="#1f3870" font-weight="bold">0.02</text>
<line x1="43.2" y1="343.14" x2="46.4" y2="343.14" stroke="#3459a0" stroke-width="1"/>
<text transform="translate(37.2 346.14) scale(1 0.9)" x="0" y="0" font-size="9.3" text-anchor="end" fill="#1f3870" font-weight="bold">0.04</text>
<line x1="43.2" y1="323.51" x2="46.4" y2="323.51" stroke="#3459a0" stroke-width="1"/>
<text transform="translate(37.2 326.51) scale(1 0.9)" x="0" y="0" font-size="9.3" text-anchor="end" fill="#1f3870" font-weight="bold">0.06</text>
<line x1="43.2" y1="303.89" x2="46.4" y2="303.89" stroke="#3459a0" stroke-width="1"/>
<text transform="translate(37.2 306.89) scale(1 0.9)" x="0" y="0" font-size="9.3" text-anchor="end" fill="#1f3870" font-weight="bold">0.08</text>
<line x1="43.2" y1="284.26" x2="46.4" y2="284.26" stroke="#3459a0" stroke-width="1"/>
<text transform="translate(37.2 287.26) scale(1 0.9)" x="0" y="0" font-size="9.3" text-anchor="end" fill="#1f3870" font-weight="bold">0.10</text>
<line x1="43.2" y1="264.63" x2="46.4" y2="264.63" stroke="#3459a0" stroke-width="1"/>
<text transform="translate(37.2 267.63) scale(1 0.9)" x="0" y="0" font-size="9.3" text-anchor="end" fill="#1f3870" font-weight="bold">0.12</text>
<line x1="43.2" y1="245" x2="46.4" y2="245" stroke="#3459a0" stroke-width="1"/>
<text transform="translate(37.2 248) scale(1 0.9)" x="0" y="0" font-size="9.3" text-anchor="end" fill="#1f3870" font-weight="bold">0.14</text>
<line x1="460.7" y1="245" x2="460.7" y2="382.4" stroke="#474747" stroke-width="1.2"/>
<line x1="460.7" y1="382.4" x2="463.3" y2="382.4" stroke="#474747" stroke-width="1"/>
<text transform="translate(469.4 385.4) scale(1 0.88)" x="0" y="0" font-size="9.6" text-anchor="start" fill="#000" font-weight="bold">0</text>
<line x1="460.7" y1="365.22" x2="463.3" y2="365.22" stroke="#474747" stroke-width="1"/>
<text transform="translate(469.4 368.22) scale(1 0.88)" x="0" y="0" font-size="9.6" text-anchor="start" fill="#000" font-weight="bold">1</text>
<line x1="460.7" y1="348.05" x2="463.3" y2="348.05" stroke="#474747" stroke-width="1"/>
<text transform="translate(469.4 351.05) scale(1 0.88)" x="0" y="0" font-size="9.6" text-anchor="start" fill="#000" font-weight="bold">2</text>
<line x1="460.7" y1="330.88" x2="463.3" y2="330.88" stroke="#474747" stroke-width="1"/>
<text transform="translate(469.4 333.88) scale(1 0.88)" x="0" y="0" font-size="9.6" text-anchor="start" fill="#000" font-weight="bold">3</text>
<line x1="460.7" y1="313.7" x2="463.3" y2="313.7" stroke="#474747" stroke-width="1"/>
<text transform="translate(469.4 316.7) scale(1 0.88)" x="0" y="0" font-size="9.6" text-anchor="start" fill="#000" font-weight="bold">4</text>
<line x1="460.7" y1="296.52" x2="463.3" y2="296.52" stroke="#474747" stroke-width="1"/>
<text transform="translate(469.4 299.52) scale(1 0.88)" x="0" y="0" font-size="9.6" text-anchor="start" fill="#000" font-weight="bold">5</text>
<line x1="460.7" y1="279.35" x2="463.3" y2="279.35" stroke="#474747" stroke-width="1"/>
<text transform="translate(469.4 282.35) scale(1 0.88)" x="0" y="0" font-size="9.6" text-anchor="start" fill="#000" font-weight="bold">6</text>
<line x1="460.7" y1="262.18" x2="463.3" y2="262.18" stroke="#474747" stroke-width="1"/>
<text transform="translate(469.4 265.18) scale(1 0.88)" x="0" y="0" font-size="9.6" text-anchor="start" fill="#000" font-weight="bold">7</text>
<line x1="460.7" y1="245" x2="463.3" y2="245" stroke="#474747" stroke-width="1"/>
<text transform="translate(469.4 248) scale(1 0.88)" x="0" y="0" font-size="9.6" text-anchor="start" fill="#000" font-weight="bold">8</text>
<line x1="507.5" y1="243" x2="507.5" y2="382.4" stroke="#3459a0" stroke-width="1.2"/>
<line x1="507.5" y1="382.4" x2="510.1" y2="382.4" stroke="#3459a0" stroke-width="1"/>
<text transform="translate(516.2 385.4) scale(1 0.9)" x="0" y="0" font-size="9.3" text-anchor="start" fill="#1f3870" font-weight="bold">0.0</text>
<line x1="507.5" y1="359.17" x2="510.1" y2="359.17" stroke="#3459a0" stroke-width="1"/>
<text transform="translate(516.2 362.17) scale(1 0.9)" x="0" y="0" font-size="9.3" text-anchor="start" fill="#1f3870" font-weight="bold">0.2</text>
<line x1="507.5" y1="335.93" x2="510.1" y2="335.93" stroke="#3459a0" stroke-width="1"/>
<text transform="translate(516.2 338.93) scale(1 0.9)" x="0" y="0" font-size="9.3" text-anchor="start" fill="#1f3870" font-weight="bold">0.4</text>
<line x1="507.5" y1="312.7" x2="510.1" y2="312.7" stroke="#3459a0" stroke-width="1"/>
<text transform="translate(516.2 315.7) scale(1 0.9)" x="0" y="0" font-size="9.3" text-anchor="start" fill="#1f3870" font-weight="bold">0.6</text>
<line x1="507.5" y1="289.47" x2="510.1" y2="289.47" stroke="#3459a0" stroke-width="1"/>
<text transform="translate(516.2 292.47) scale(1 0.9)" x="0" y="0" font-size="9.3" text-anchor="start" fill="#1f3870" font-weight="bold">0.8</text>
<line x1="507.5" y1="266.23" x2="510.1" y2="266.23" stroke="#3459a0" stroke-width="1"/>
<text transform="translate(516.2 269.23) scale(1 0.9)" x="0" y="0" font-size="9.3" text-anchor="start" fill="#1f3870" font-weight="bold">1.0</text>
<line x1="507.5" y1="243" x2="510.1" y2="243" stroke="#3459a0" stroke-width="1"/>
<text transform="translate(516.2 246) scale(1 0.9)" x="0" y="0" font-size="9.3" text-anchor="start" fill="#1f3870" font-weight="bold">1.2</text>
<text transform="translate(9.4 313) rotate(-90)" x="0" y="0" font-size="11" text-anchor="middle" dominant-baseline="central" fill="#1f3870" font-weight="bold">Nitrate (mg/L)</text>
<text transform="translate(65.9 313.2) rotate(-90)" x="0" y="0" font-size="10.8" text-anchor="middle" dominant-baseline="central" fill="#000" font-weight="bold">Salinity (‰)</text>
<text transform="translate(483.5 313.2) rotate(-90)" x="0" y="0" font-size="11" text-anchor="middle" dominant-baseline="central" fill="#000" font-weight="bold">Dissolved oxygen (mg/L)</text>
<text transform="translate(536.9 312.3) rotate(-90)" x="0" y="0" font-size="10.25" text-anchor="middle" dominant-baseline="central" fill="#000" font-weight="bold">Ammonium &amp; Phosphate (mg/L)</text>
<path d="M106.95 276.3 C110.03 276.25 131.58 275.79 137.74 275.8 C143.9 275.81 162.37 276.37 168.53 276.4 C174.69 276.43 193.16 275.92 199.32 276.1 C205.48 276.28 223.95 277.1 230.11 278.2 C236.27 279.3 254.74 285.09 260.9 287.1 C267.06 289.11 285.53 296.76 291.69 298.3 C297.85 299.84 316.32 303.78 322.48 302.5 C328.64 301.22 347.11 289.12 353.27 285.5 C359.43 281.88 377.9 268.04 384.06 266.3 C390.22 264.56 408.69 267.44 414.85 268.1 C421.01 268.76 442.56 272.42 445.64 272.9" fill="none" stroke="#5cb85c" stroke-width="1.3"/>
<path d="M106.95 276.3 C110.03 276.25 131.58 275.79 137.74 275.8 C143.9 275.81 162.37 276.37 168.53 276.4 C174.69 276.43 193.16 275.92 199.32 276.1 C205.48 276.28 223.95 277.1 230.11 278.2 C236.27 279.3 254.74 285.09 260.9 287.1 C267.06 289.11 285.53 296.76 291.69 298.3 C297.85 299.84 316.32 303.78 322.48 302.5 C328.64 301.22 347.11 289.12 353.27 285.5 C359.43 281.88 377.9 268.04 384.06 266.3 C390.22 264.56 408.69 267.44 414.85 268.1 C421.01 268.76 442.56 272.42 445.64 272.9" fill="none" stroke="#ee2020" stroke-width="1.4" stroke-dasharray="4.5 2.5"/>
<path d="M106.95 274 L109.25 276.3 L106.95 278.6 L104.65 276.3 Z" fill="#6a2aa8"/>
<path d="M137.74 273.5 L140.04 275.8 L137.74 278.1 L135.44 275.8 Z" fill="#6a2aa8"/>
<path d="M168.53 274.1 L170.83 276.4 L168.53 278.7 L166.23 276.4 Z" fill="#6a2aa8"/>
<path d="M199.32 273.8 L201.62 276.1 L199.32 278.4 L197.02 276.1 Z" fill="#6a2aa8"/>
<path d="M230.11 275.9 L232.41 278.2 L230.11 280.5 L227.81 278.2 Z" fill="#6a2aa8"/>
<path d="M260.9 284.8 L263.2 287.1 L260.9 289.4 L258.6 287.1 Z" fill="#6a2aa8"/>
<path d="M291.69 296 L293.99 298.3 L291.69 300.6 L289.39 298.3 Z" fill="#6a2aa8"/>
<path d="M322.48 300.2 L324.78 302.5 L322.48 304.8 L320.18 302.5 Z" fill="#6a2aa8"/>
<path d="M353.27 283.2 L355.57 285.5 L353.27 287.8 L350.97 285.5 Z" fill="#6a2aa8"/>
<path d="M384.06 264 L386.36 266.3 L384.06 268.6 L381.76 266.3 Z" fill="#6a2aa8"/>
<path d="M414.85 265.8 L417.15 268.1 L414.85 270.4 L412.55 268.1 Z" fill="#6a2aa8"/>
<path d="M445.64 270.6 L447.94 272.9 L445.64 275.2 L443.34 272.9 Z" fill="#6a2aa8"/>
<circle cx="107.25" cy="276.6" r="1.6" fill="#1a1a40"/>
<circle cx="138.04" cy="276.1" r="1.6" fill="#1a1a40"/>
<circle cx="168.83" cy="276.7" r="1.6" fill="#1a1a40"/>
<circle cx="199.62" cy="276.4" r="1.6" fill="#1a1a40"/>
<circle cx="230.41" cy="278.5" r="1.6" fill="#1a1a40"/>
<circle cx="261.2" cy="287.4" r="1.6" fill="#1a1a40"/>
<circle cx="291.99" cy="298.6" r="1.6" fill="#1a1a40"/>
<circle cx="322.78" cy="302.8" r="1.6" fill="#1a1a40"/>
<circle cx="353.57" cy="285.8" r="1.6" fill="#1a1a40"/>
<circle cx="384.36" cy="266.6" r="1.6" fill="#1a1a40"/>
<circle cx="415.15" cy="268.4" r="1.6" fill="#1a1a40"/>
<circle cx="445.94" cy="273.2" r="1.6" fill="#1a1a40"/>
<path d="M106.95 367 L137.74 367.5 L168.53 356 L199.32 328.1 L230.11 317.9 L260.9 333.5 L291.69 353.6 L322.48 321.8 L353.27 321.1 L384.06 337.7 L414.85 361.5 L445.64 351.9" fill="none" stroke="#2c8fe0" stroke-width="1.3" stroke-dasharray="4 3"/>
<path d="M106.95 369.3 L137.74 352.6 L168.53 351.7 L199.32 341.1 L230.11 303.2 L260.9 307.3 L291.69 305.2 L322.48 348.4 L353.27 313.2 L384.06 315.5 L414.85 329.5 L445.64 359.9" fill="none" stroke="#111" stroke-width="1.2" stroke-dasharray="4 3"/>
<path d="M106.95 364.36 L109.35 368.92 L104.55 368.92 Z" fill="#ffff00" stroke="#6a6a00" stroke-width="0.5"/>
<path d="M137.74 364.86 L140.14 369.42 L135.34 369.42 Z" fill="#ffff00" stroke="#6a6a00" stroke-width="0.5"/>
<path d="M168.53 353.36 L170.93 357.92 L166.13 357.92 Z" fill="#ffff00" stroke="#6a6a00" stroke-width="0.5"/>
<path d="M199.32 325.46 L201.72 330.02 L196.92 330.02 Z" fill="#ffff00" stroke="#6a6a00" stroke-width="0.5"/>
<path d="M230.11 315.26 L232.51 319.82 L227.71 319.82 Z" fill="#ffff00" stroke="#6a6a00" stroke-width="0.5"/>
<path d="M260.9 330.86 L263.3 335.42 L258.5 335.42 Z" fill="#ffff00" stroke="#6a6a00" stroke-width="0.5"/>
<path d="M291.69 350.96 L294.09 355.52 L289.29 355.52 Z" fill="#ffff00" stroke="#6a6a00" stroke-width="0.5"/>
<path d="M322.48 319.16 L324.88 323.72 L320.08 323.72 Z" fill="#ffff00" stroke="#6a6a00" stroke-width="0.5"/>
<path d="M353.27 318.46 L355.67 323.02 L350.87 323.02 Z" fill="#ffff00" stroke="#6a6a00" stroke-width="0.5"/>
<path d="M384.06 335.06 L386.46 339.62 L381.66 339.62 Z" fill="#ffff00" stroke="#6a6a00" stroke-width="0.5"/>
<path d="M414.85 358.86 L417.25 363.42 L412.45 363.42 Z" fill="#ffff00" stroke="#6a6a00" stroke-width="0.5"/>
<path d="M445.64 349.26 L448.04 353.82 L443.24 353.82 Z" fill="#ffff00" stroke="#6a6a00" stroke-width="0.5"/>
<circle cx="106.95" cy="369.3" r="2.1" fill="#8b0000" stroke="#000" stroke-width="0.5"/>
<circle cx="137.74" cy="352.6" r="2.1" fill="#8b0000" stroke="#000" stroke-width="0.5"/>
<circle cx="168.53" cy="351.7" r="2.1" fill="#8b0000" stroke="#000" stroke-width="0.5"/>
<circle cx="199.32" cy="341.1" r="2.1" fill="#8b0000" stroke="#000" stroke-width="0.5"/>
<circle cx="230.11" cy="303.2" r="2.1" fill="#8b0000" stroke="#000" stroke-width="0.5"/>
<circle cx="260.9" cy="307.3" r="2.1" fill="#8b0000" stroke="#000" stroke-width="0.5"/>
<circle cx="291.69" cy="305.2" r="2.1" fill="#8b0000" stroke="#000" stroke-width="0.5"/>
<circle cx="322.48" cy="348.4" r="2.1" fill="#8b0000" stroke="#000" stroke-width="0.5"/>
<circle cx="353.27" cy="313.2" r="2.1" fill="#8b0000" stroke="#000" stroke-width="0.5"/>
<circle cx="384.06" cy="315.5" r="2.1" fill="#8b0000" stroke="#000" stroke-width="0.5"/>
<circle cx="414.85" cy="329.5" r="2.1" fill="#8b0000" stroke="#000" stroke-width="0.5"/>
<circle cx="445.64" cy="359.9" r="2.1" fill="#8b0000" stroke="#000" stroke-width="0.5"/>
<path d="M107.15 301.5 L137.94 294.5 L168.73 295.2 L199.52 292.8 L230.31 260.5 L261.1 276.2 L291.89 264.6 L322.68 257.6 L353.47 287.1 L384.26 285.3 L415.05 287.2 L445.84 290.1" fill="none" stroke="#2b7bd6" stroke-width="1.4" stroke-linejoin="round"/>
<rect x="105.45" y="299.8" width="3.4" height="3.4" fill="#1c2a6e"/>
<rect x="136.24" y="292.8" width="3.4" height="3.4" fill="#1c2a6e"/>
<rect x="167.03" y="293.5" width="3.4" height="3.4" fill="#1c2a6e"/>
<rect x="197.82" y="291.1" width="3.4" height="3.4" fill="#1c2a6e"/>
<rect x="228.61" y="258.8" width="3.4" height="3.4" fill="#1c2a6e"/>
<rect x="259.4" y="274.5" width="3.4" height="3.4" fill="#1c2a6e"/>
<rect x="290.19" y="262.9" width="3.4" height="3.4" fill="#1c2a6e"/>
<rect x="320.98" y="255.9" width="3.4" height="3.4" fill="#1c2a6e"/>
<rect x="351.77" y="285.4" width="3.4" height="3.4" fill="#1c2a6e"/>
<rect x="382.56" y="283.6" width="3.4" height="3.4" fill="#1c2a6e"/>
<rect x="413.35" y="285.5" width="3.4" height="3.4" fill="#1c2a6e"/>
<rect x="444.14" y="288.4" width="3.4" height="3.4" fill="#1c2a6e"/>
<path d="M107.25 301.5 L138.04 289 L168.83 294.2 L199.62 292.4 L230.41 259.9 L261.2 275.5 L291.99 264 L322.78 256.9 L353.57 282.6 L384.36 283.2 L415.15 286.5 L445.94 286.5" fill="none" stroke="#f5b800" stroke-width="1.4" stroke-linejoin="round"/>
<rect x="105.25" y="299.5" width="4" height="4" fill="#ff1010"/>
<rect x="136.04" y="287" width="4" height="4" fill="#ff1010"/>
<rect x="166.83" y="292.2" width="4" height="4" fill="#ff1010"/>
<rect x="197.62" y="290.4" width="4" height="4" fill="#ff1010"/>
<rect x="228.41" y="257.9" width="4" height="4" fill="#ff1010"/>
<rect x="259.2" y="273.5" width="4" height="4" fill="#ff1010"/>
<rect x="289.99" y="262" width="4" height="4" fill="#ff1010"/>
<rect x="320.78" y="254.9" width="4" height="4" fill="#ff1010"/>
<rect x="351.57" y="280.6" width="4" height="4" fill="#ff1010"/>
<rect x="382.36" y="281.2" width="4" height="4" fill="#ff1010"/>
<rect x="413.15" y="284.5" width="4" height="4" fill="#ff1010"/>
<rect x="443.94" y="284.5" width="4" height="4" fill="#ff1010"/>
<rect x="102.3" y="411.95" width="5.5" height="5.5" fill="#8fcf7e"/>
<text x="110.3" y="417.3" font-size="9.6" fill="#000" font-weight="bold" textLength="49.89" lengthAdjust="spacingAndGlyphs">Salinity 2021</text>
<rect x="171.15" y="411.95" width="5.5" height="5.5" fill="#f5c4a6"/>
<text x="179" y="417.3" font-size="9.6" fill="#000" font-weight="bold" textLength="49.59" lengthAdjust="spacingAndGlyphs">Salinity 2022</text>
<rect x="240.2" y="412.2" width="4.6" height="4.6" fill="#fff" stroke="#000" stroke-width="1.4"/>
<text x="247.3" y="417.3" font-size="9.6" fill="#000" font-weight="bold" textLength="89.61" lengthAdjust="spacingAndGlyphs">Dissolved oxygen 2021</text>
<rect x="348.4" y="412.2" width="4.6" height="4.6" fill="#fff" stroke="#1a73d0" stroke-width="1.4"/>
<text x="355.5" y="417.3" font-size="9.6" fill="#000" font-weight="bold" textLength="89.61" lengthAdjust="spacingAndGlyphs">Dissolved oxygen 2022</text>
<line x1="111.3" y1="428.3" x2="114.5" y2="428.3" stroke="#4caf50" stroke-width="1.3"/>
<line x1="120" y1="428.3" x2="123.8" y2="428.3" stroke="#4caf50" stroke-width="1.3"/>
<path d="M117.1 425.9 L119.5 428.3 L117.1 430.7 L114.7 428.3 Z" fill="#6a2aa8"/>
<text x="124.8" y="431" font-size="9.6" fill="#000" font-weight="bold" textLength="65.61" lengthAdjust="spacingAndGlyphs">Ammonium 2021</text>
<line x1="198.9" y1="428.2" x2="202.3" y2="428.2" stroke="#e8201a" stroke-width="1.3"/>
<line x1="207.5" y1="428.2" x2="209.5" y2="428.2" stroke="#e8201a" stroke-width="1.3"/>
<line x1="203.6" y1="426.6" x2="206.8" y2="429.8" stroke="#1a1a40" stroke-width="1.1"/>
<line x1="203.6" y1="429.8" x2="206.8" y2="426.6" stroke="#1a1a40" stroke-width="1.1"/>
<text x="211.6" y="431" font-size="9.6" fill="#000" font-weight="bold" textLength="65.81" lengthAdjust="spacingAndGlyphs">Ammonium 2022</text>
<line x1="286.2" y1="428.2" x2="289.3" y2="428.2" stroke="#2c8fe0" stroke-width="1.3"/>
<line x1="293.5" y1="428.2" x2="295.6" y2="428.2" stroke="#2c8fe0" stroke-width="1.3"/>
<path d="M291.3 425.87 L293.6 430.24 L289 430.24 Z" fill="#ffff00" stroke="#6a6a00" stroke-width="0.5"/>
<text x="297.4" y="431" font-size="9.6" fill="#000" font-weight="bold" textLength="60.6" lengthAdjust="spacingAndGlyphs">Phosphate 2021</text>
<line x1="365.6" y1="428.2" x2="369.3" y2="428.2" stroke="#111" stroke-width="1.2"/>
<line x1="374.5" y1="428.2" x2="375.8" y2="428.2" stroke="#111" stroke-width="1.2"/>
<circle cx="372" cy="428.2" r="1.9" fill="#8b0000" stroke="#000" stroke-width="0.5"/>
<text x="377.6" y="431" font-size="9.6" fill="#000" font-weight="bold" textLength="60.9" lengthAdjust="spacingAndGlyphs">Phosphate 2022</text>
<line x1="217.4" y1="442.9" x2="225.5" y2="442.9" stroke="#2b7bd6" stroke-width="1.3"/>
<rect x="219.5" y="441.1" width="3.6" height="3.6" fill="#1c2a6e"/>
<text x="226.4" y="445.6" font-size="9.6" fill="#000" font-weight="bold" textLength="46.59" lengthAdjust="spacingAndGlyphs">Nitrate 2021</text>
<line x1="284.7" y1="442.9" x2="293" y2="442.9" stroke="#f5b800" stroke-width="1.3"/>
<rect x="287.3" y="441" width="3.8" height="3.8" fill="#ff1010"/>
<text x="294.3" y="445.6" font-size="9.6" fill="#000" font-weight="bold" textLength="46.39" lengthAdjust="spacingAndGlyphs">Nitrate 2022</text>
<text x="510.2" y="428.3" font-size="21" text-anchor="middle" fill="#000" font-weight="bold">(b)</text>
</svg></body></html>
